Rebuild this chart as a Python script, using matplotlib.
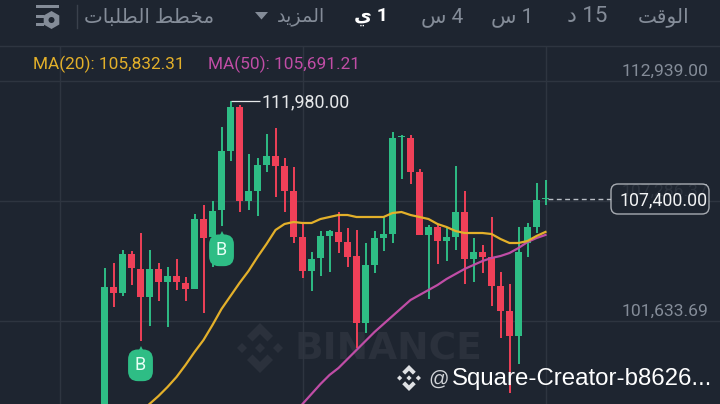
import numpy as np
import matplotlib
matplotlib.use("Agg")
import matplotlib.pyplot as plt
from matplotlib.patches import Polygon, Rectangle, FancyBboxPatch, Circle, RegularPolygon
from matplotlib.transforms import ScaledTranslation

BG = "#1e2530"
GRID = "#2e3540"
GREY = "#848c98"
UP = "#2ebd85"
DOWN = "#ef4058"
MA20_C = "#e3b02a"
MA50_C = "#c04da6"

# daily candles
opens = [96523, 103244, 102962, 104795, 104090, 102774, 104090, 103479, 103761, 103432,
         103150, 106440, 105594, 106863, 109636, 111704, 107286, 107756, 108978, 109401,
         108931, 107756, 105594, 103996, 104607, 105641, 105829, 105359, 104701, 101552,
         104278, 105547, 105735, 110294, 110247, 108649, 105688, 106064, 105406, 105594,
         106769, 104560, 104889, 104654, 103291, 102116, 100941, 105312, 106064, 107380]
highs = [104137, 104372, 104983, 104936, 105782, 104983, 104372, 104184, 104560, 103714,
         106675, 107098, 107286, 110764, 111980, 111798, 109495, 109307, 110435, 110717,
         109307, 108884, 106252, 104889, 105876, 105923, 106769, 106017, 105923, 105312,
         105876, 106534, 110529, 110388, 110388, 108790, 106158, 106205, 106017, 108931,
         107756, 105547, 105218, 106534, 103949, 103385, 106064, 106252, 108132, 108273]
lows = [96000, 102304, 102821, 103338, 100706, 101411, 102586, 101364, 103103, 102586,
        103150, 102022, 104184, 106111, 109166, 106769, 106863, 106581, 108649, 107474,
        106769, 105312, 103667, 103056, 103761, 103949, 104842, 104184, 100377, 101082,
        103902, 104936, 105312, 108320, 108085, 105688, 102680, 104325, 104466, 104983,
        103385, 103479, 103902, 102351, 100847, 98262, 99625, 104654, 105782, 107098]
closes = [103244, 102962, 104795, 104137, 102774, 104090, 103479, 103761, 103479, 103150,
          106440, 105547, 106816, 109636, 111704, 107286, 107756, 108978, 109401, 108931,
          107756, 105594, 103996, 104560, 105641, 105876, 105359, 104654, 101552, 104278,
          105547, 105735, 110247, 110341, 108649, 105688, 106064, 105406, 105594, 106769,
          104560, 104889, 104654, 103291, 102116, 100941, 104889, 106064, 107333, 107400]

ma20 = [97745, 98121, 98544, 99014, 99578, 100189, 100753, 101458, 102210, 102821,
        103432, 103996, 104654, 105265, 105923, 106205, 106299, 106252, 106252, 106440,
        106534, 106628, 106628, 106534, 106534, 106534, 106534, 106722, 106769, 106628,
        106534, 106440, 106205, 106064, 105876, 105782, 105782, 105782, 105735, 105500,
        105312, 105312, 105406, 105641, 105832.31]
ma50 = [97745, 98215, 98685, 99108, 99437, 99860, 100283, 100706, 101129, 101505,
        101881, 102257, 102633, 102868, 103103, 103338, 103620, 103855, 104090, 104278,
        104466, 104607, 104701, 104842, 105077, 105359, 105547, 105691.21]

price_ticks = [101633.69, 107286.37, 112939.00]
buy_idx = [4, 13]
last_price = 107400.00
max_price = 111980.00


def logo(target, cx, cy, r, color, z):
    s = r * 0.2
    for dx in (-0.72, 0, 0.72):
        x0 = cx + dx * r
        target.add_patch(Polygon([(x0 - s, cy), (x0, cy - s), (x0 + s, cy), (x0, cy + s)],
                                 color=color, lw=0, zorder=z))
    for sgn in (-1, 1):
        pts = [(0, 1), (0.52, 0.48), (0.3, 0.26), (0, 0.56), (-0.3, 0.26), (-0.52, 0.48)]
        target.add_patch(Polygon([(cx + a * r, cy + sgn * b * r) for a, b in pts],
                                 color=color, lw=0, zorder=z))


fig = plt.figure(figsize=(7.2, 4.04), dpi=100, facecolor=BG)
ax = fig.add_axes([0, 0, 1, 1])
ax.patch.set_visible(False)
ax.set_xlim(-104.5 / 9, (720 - 104.5) / 9)
ax.set_ylim(97745, 116733)
for s in ax.spines.values():
    s.set_visible(False)
ax.set_yticks(price_ticks)
ax.set_xticks([-5, 22, 49])
ax.tick_params(length=0, labelleft=False, labelbottom=False)
ax.grid(color=GRID, lw=1)
ax.set_axisbelow(True)

# pixel overlay for header and labels
ov = fig.add_axes([0, 0, 1, 1], zorder=5)
ov.set_xlim(0, 720)
ov.set_ylim(404, 0)
ov.axis("off")

# watermark sits under the candles
wm = fig.add_axes([0, 0, 1, 1], zorder=-1)
wm.set_xlim(0, 720)
wm.set_ylim(404, 0)
wm.axis("off")
logo(wm, 260, 348, 25, "#2b313c", 1)
wm.text(295, 349, "BINANCE", color="#2b313c", fontsize=27, fontweight="bold",
        family="DejaVu Sans", va="center", ha="left", zorder=1)

# candles
x = np.arange(len(opens))
for i in x:
    col = UP if closes[i] >= opens[i] else DOWN
    ax.vlines(i, lows[i], highs[i], color=col, lw=1.4, zorder=3)
    bottom = min(opens[i], closes[i])
    height = max(abs(closes[i] - opens[i]), 45)
    ax.bar(i, height, bottom=bottom, width=0.78, color=col, lw=0, zorder=3)

ax.plot(x[-len(ma50):], ma50, color=MA50_C, lw=1.6, zorder=4)
ax.plot(x[-len(ma20):], ma20, color=MA20_C, lw=1.6, zorder=5)

# buy markers under the candle low
down_peak = ax.transData + ScaledTranslation(0, -7.5 / 72, fig.dpi_scale_trans)
for i in buy_idx:
    ax.annotate("B", xy=(i, lows[i]), xytext=(0, -17.5), textcoords="offset points",
                ha="center", va="center", color="#e8fff6", fontsize=13, family="Roboto",
                bbox=dict(boxstyle="round,pad=0.38,rounding_size=0.55", fc=UP, ec="none"),
                zorder=6)
    ax.plot([i], [lows[i]], marker="^", ms=7, color=UP, mew=0, zorder=6, transform=down_peak)

# max label with leader
imax = int(np.argmax(highs))
ax.hlines(max_price, imax, imax + 3.3, color="#e6e8ea", lw=0.9, zorder=7)
ax.annotate(f"{max_price:,.2f}", xy=(imax, max_price), xytext=(22, -1), textcoords="offset points",
            color="#e6e8ea", fontsize=12.8, family="Roboto", va="center", ha="left", zorder=7)

# price labels on the right
for p in price_ticks:
    ax.annotate(f"{p:,.2f}", xy=(1, p), xycoords=("axes fraction", "data"), xytext=(-8.5, 7),
                textcoords="offset points", color=GREY, fontsize=12.6, family="Roboto",
                ha="right", va="center", zorder=2)

# last price
ax.hlines(last_price, len(opens) - 0.7, (611 - 104.5) / 9, color="#b9bec5", lw=1, ls=(0, (3.5, 2.5)), zorder=4)
ov.add_patch(FancyBboxPatch((617, 190), 86, 18, boxstyle="round,pad=6,rounding_size=7",
                            fc=BG, ec="#c0c4c9", lw=1, alpha=0.85))
ov.text(708, 200, f"{last_price:,.2f}", color="#f2f3f4", fontsize=12.8, family="Roboto",
        ha="right", va="center")

# MA legend
ov.text(33, 64, f"MA(20): {ma20[-1]:,.2f}", color=MA20_C, fontsize=12.4, family="Roboto", va="center")
ov.text(208, 64, f"MA(50): {ma50[-1]:,.2f}", color=MA50_C, fontsize=12.4, family="Roboto", va="center")

# header
ov.add_patch(Rectangle((0, 0), 720, 46, color=BG, lw=0))
ov.plot([0, 720], [46, 46], color=GRID, lw=1)
ov.plot([77, 77], [5, 28], color="#3a414c", lw=1)

fam = ["Roboto", "DejaVu Sans"]
# Arabic written in presentation forms, visual order (matplotlib does no shaping)
head = [
    (689, "\uFE96\uFED7\uFEEE\uFEDF\uFE8D", GREY, "normal", 14.5),
    (607, "\uFEA9 15", GREY, "normal", 16),
    (533, "\uFEB1 1", GREY, "normal", 15),
    (463, "\uFEB1 4", GREY, "normal", 15),
    (388, "\uFEF1 1", "#ffffff", "bold", 14),
    (325, "\uFEAA\uFEF3\uFEB0\uFEE4\uFEDF\uFE8D", GREY, "normal", 13.8),
    (214, "\uFE95\uFE8E\uFE92\uFEE0\uFEC4\uFEDF\uFE8D \uFEC2\uFEC4\uFEA8\uFEE3", GREY, "normal", 14.4),
]
for right, txt, col, w, size in head:
    ov.text(right, 17, txt, color=col, fontsize=size, family=fam, fontweight=w, ha="right", va="center")

ov.add_patch(Polygon([(255, 12), (268, 12), (261.5, 19.5)], color=GREY, lw=0))

# order book icon
ov.add_patch(Rectangle((36, 5), 23, 3, color=GREY, lw=0))
ov.add_patch(Rectangle((36, 15), 8, 3, color=GREY, lw=0))
ov.add_patch(Rectangle((36, 23), 8, 3, color=GREY, lw=0))
ov.add_patch(RegularPolygon((51.5, 20), 6, radius=9, color=GREY, lw=0))
ov.add_patch(Circle((51.5, 20), 3, color=BG, lw=0))

# footer credit
logo(ov, 409, 378, 13, "#dfe1e4", 8)
ov.text(428, 379, "@", color="#d0d3d7", fontsize=14.5, family="Liberation Sans", va="center", zorder=8)
ov.text(452, 379, "Square-Creator-b8626...", color="#ffffff", fontsize=17.3,
        family="Liberation Sans", va="center", zorder=8)

fig.savefig("out.png", dpi=100, facecolor=BG)
